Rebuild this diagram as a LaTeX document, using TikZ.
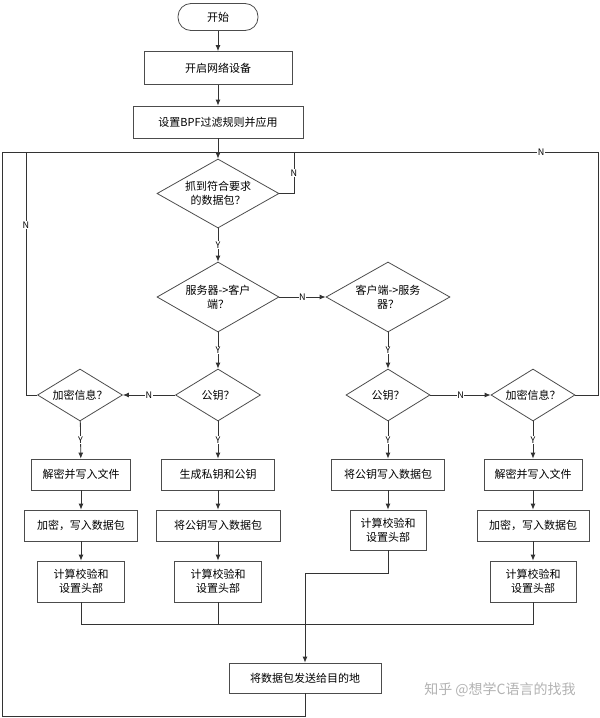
\documentclass[tikz,border=0pt]{standalone}
\usepackage{fontspec}
\setmainfont{Noto Sans CJK SC}
\usetikzlibrary{shapes.geometric,arrows.meta}
\begin{document}
\begin{tikzpicture}[x=1pt,y=-1pt,
  every node/.style={font=\fontsize{11}{14}\selectfont, align=center, inner sep=1pt},
  box/.style={draw=black!70, line width=0.8pt, minimum height=31pt},
  dia/.style={draw=black!70, line width=0.8pt, diamond, aspect=1.75, inner sep=0pt},
  ln/.style={line width=0.8pt, draw=black!80},
  ar/.style={ln, -{Latex[length=6pt,width=5pt]}},
  lab/.style={fill=white, inner sep=0.5pt, font=\fontsize{9}{10}\selectfont}]
\useasboundingbox (0,0) rectangle (600,718);
\node[draw=black!70, line width=0.8pt, rounded corners=13pt, minimum width=80pt, minimum height=27pt] (s) at (218,17) {开始};
\node[box, minimum width=148pt, minimum height=33pt] (b1) at (218,68) {开启网络设备};
\node[box, minimum width=170pt, minimum height=32pt] (b2) at (218,122) {设置BPF过滤规则并应用};
\coordinate (top) at (218,152);
\node[dia, minimum width=122pt, minimum height=69pt] (d1) at (218,193.5) {抓到符合要求\\的数据包？};
\node[dia, minimum width=122pt, minimum height=70pt] (d2) at (218,297) {服务器->客户\\端？};
\node[dia, minimum width=124pt, minimum height=70pt] (d3) at (388,297) {客户端->服务\\器？};
\node[dia, minimum width=85pt, minimum height=52pt] (k1) at (218,395) {公钥？};
\node[dia, minimum width=85pt, minimum height=52pt] (e1) at (80,395) {加密信息？};
\node[dia, minimum width=84pt, minimum height=52pt] (k2) at (388,395) {公钥？};
\node[dia, minimum width=84pt, minimum height=52pt] (e2) at (533,395) {加密信息？};
% column 1
\node[box, minimum width=99pt] (a1) at (81,474.5) {解密并写入文件};
\node[box, minimum width=113pt] (a2) at (81,525.5) {加密，写入数据包};
\node[box, minimum width=87pt, minimum height=41pt] (a3) at (81,581.5) {计算校验和\\设置头部};
% column 2
\node[box, minimum width=113pt] (c1) at (218,474.5) {生成私钥和公钥};
\node[box, minimum width=124pt] (c2) at (218,525.5) {将公钥写入数据包};
\node[box, minimum width=87pt, minimum height=41pt] (c3) at (218,581.5) {计算校验和\\设置头部};
% column 3
\node[box, minimum width=113pt] (g1) at (388,474.5) {将公钥写入数据包};
\node[box, minimum width=76pt, minimum height=40pt] (g2) at (388,530) {计算校验和\\设置头部};
% column 4
\node[box, minimum width=98pt] (h1) at (533,474.5) {解密并写入文件};
\node[box, minimum width=112pt] (h2) at (533,525.5) {加密，写入数据包};
\node[box, minimum width=86pt, minimum height=41pt] (h3) at (533,581.5) {计算校验和\\设置头部};
\node[box, minimum width=152pt, minimum height=30pt] (f) at (305,678) {将数据包发送给目的地};
\node[text=black!30, font=\fontsize{14}{16}\selectfont] (wm) at (500,690) {知乎 @想学C语言的找我};
\coordinate (m) at (305,624);
% main flow
\draw[ar] (s) -- (b1);
\draw[ar] (b1) -- (b2);
\draw[ar] (b2) -- (d1);
\draw[ar] (d1) -- node[lab] {Y} (d2);
\draw[ln] (d1.east) -| node[lab, pos=0.75] {N} (294,152);
\draw[ar] (d2) -- node[lab] {N} (d3);
\draw[ar] (d2) -- node[lab] {Y} (k1);
\draw[ar] (d3) -- node[lab] {Y} (k2);
\draw[ar] (k1) -- node[lab] {N} (e1);
\draw[ar] (k2) -- node[lab] {N} (e2);
\draw[ar] (e1) -- node[lab] {Y} (a1);
\draw[ar] (k1) -- node[lab] {Y} (c1);
\draw[ar] (k2) -- node[lab] {Y} (g1);
\draw[ar] (e2) -- node[lab] {Y} (h1);
\draw[ln] (e1.west) -| node[lab, pos=0.85] {N} (26,152);
\draw[ln] (e2.east) -| (598,152) -- node[lab, pos=0.15] {N} (top);
\draw[ar] (a1) -- (a2);
\draw[ar] (a2) -- (a3);
\draw[ar] (c1) -- (c2);
\draw[ar] (c2) -- (c3);
\draw[ar] (g1) -- (g2);
\draw[ar] (h1) -- (h2);
\draw[ar] (h2) -- (h3);
\draw[ln] (a3.south) |- (m);
\draw[ln] (c3.south) -- (218,624);
\draw[ln] (h3.south) |- (m);
\draw[ln] (g2.south) |- (305,573) -- (m);
\draw[ar] (m) -- (f);
\draw[ln] (f.south) |- (2,716) |- (top);
\end{tikzpicture}
\end{document}
